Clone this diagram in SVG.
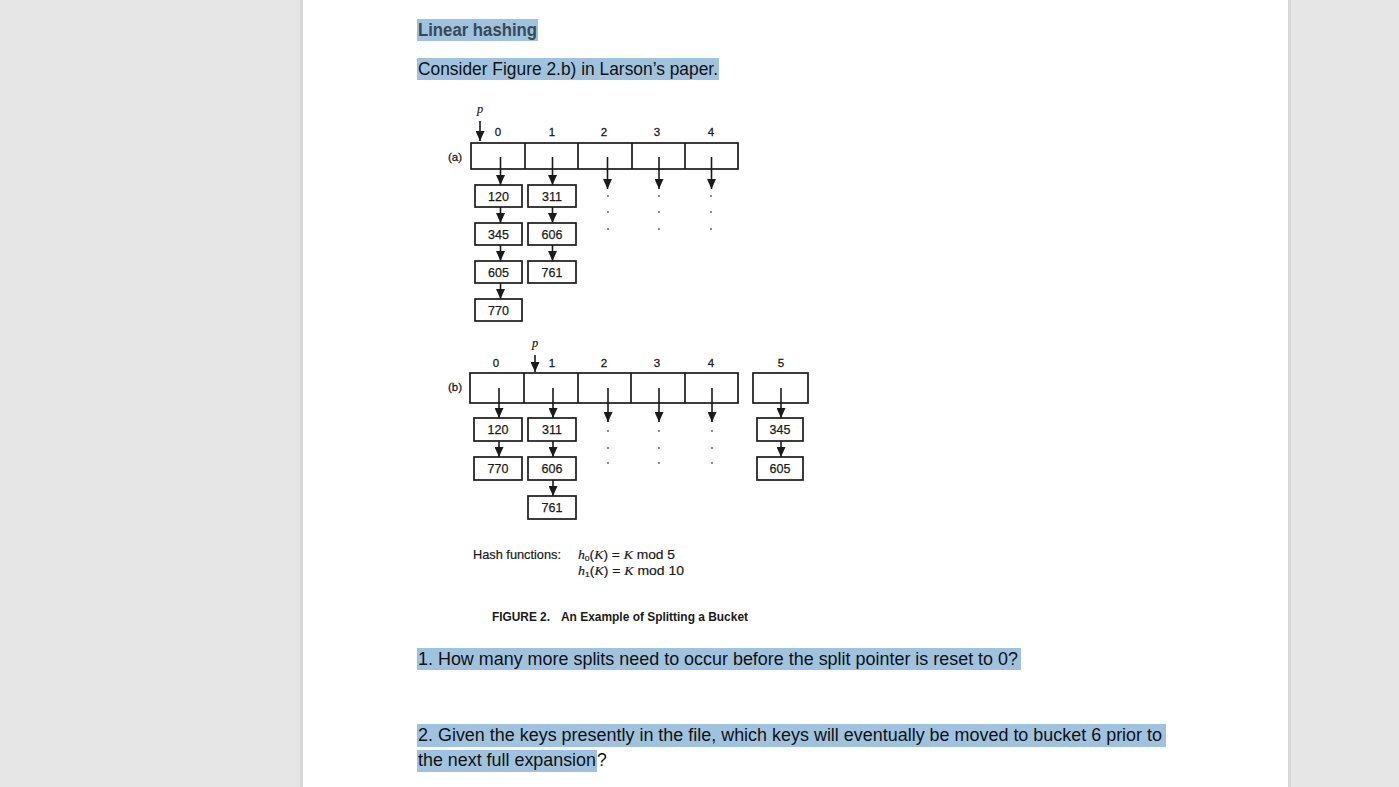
<svg xmlns="http://www.w3.org/2000/svg" width="1399" height="787" viewBox="0 0 1399 787">
<defs>
<marker id="ad" markerUnits="userSpaceOnUse" markerWidth="9" markerHeight="10" refX="4.5" refY="10" orient="0" viewBox="0 0 9 10">
<path d="M0,0 L9,0 L4.5,10 Z" fill="#1a1a1a"/>
</marker>
</defs>
<style>
.hl{fill:#9fc3df}
.body{font-family:"Liberation Sans",Arial,sans-serif;font-size:17.5px;fill:#111}
.title{font-family:"Liberation Sans",Arial,sans-serif;font-size:17.5px;font-weight:bold;fill:#3a4856}
.box{fill:#fff;stroke:#1a1a1a;stroke-width:1.7}
.num{font-family:"Liberation Sans",Arial,sans-serif;font-size:12.5px;fill:#1a1a1a;stroke:#1a1a1a;stroke-width:0.25;text-anchor:middle}
.lbl{font-family:"Liberation Sans",Arial,sans-serif;font-size:11.5px;fill:#1a1a1a;stroke:#1a1a1a;stroke-width:0.3;text-anchor:middle}
.p{font-family:"Liberation Serif","Times New Roman",serif;font-style:italic;font-size:12.5px;fill:#1a1a1a;stroke:#1a1a1a;stroke-width:0.2;text-anchor:middle}
.ln{stroke:#1a1a1a;stroke-width:1.7;fill:none}
.arr{stroke:#1a1a1a;stroke-width:1.6;fill:none;marker-end:url(#ad)}
.dot{fill:#555}
.fig{font-family:"Liberation Sans",Arial,sans-serif;font-size:13px;fill:#1a1a1a;stroke:#1a1a1a;stroke-width:0.2}
.math{font-family:"Liberation Serif","Times New Roman",serif;font-style:italic}
.cap{font-family:"Liberation Sans",Arial,sans-serif;font-size:12.5px;font-weight:bold;fill:#1a1a1a}
</style>
<rect x="0" y="0" width="1399" height="787" fill="#e6e6e6"/>
<rect x="300" y="0" width="991" height="787" fill="#d8d8d8"/>
<rect x="303" y="0" width="985" height="787" fill="#ffffff"/>

<g id="text-top">
<rect class="hl" x="417" y="19" width="121" height="22"/>
<text class="title" x="418" y="36" textLength="119" lengthAdjust="spacingAndGlyphs">Linear hashing</text>
<rect class="hl" x="417" y="58" width="302" height="22"/>
<text class="body" x="418" y="75" textLength="300" lengthAdjust="spacingAndGlyphs">Consider Figure 2.b) in Larson’s paper.</text>
</g>

<g id="fig-a">
<text class="p" x="480" y="113">p</text>
<text class="lbl" x="455" y="161">(a)</text>
<g id="a-buckets">
<rect class="box" x="471" y="143" width="267" height="26"/>
<line class="ln" x1="525" y1="143" x2="525" y2="169"/>
<line class="ln" x1="578" y1="143" x2="578" y2="169"/>
<line class="ln" x1="632" y1="143" x2="632" y2="169"/>
<line class="ln" x1="685" y1="143" x2="685" y2="169"/>
<text class="lbl" x="498" y="136">0</text>
<text class="lbl" x="552" y="136">1</text>
<text class="lbl" x="604" y="136">2</text>
<text class="lbl" x="657" y="136">3</text>
<text class="lbl" x="711" y="136">4</text>
</g>
<g id="a-120"><rect class="box" x="475" y="185" width="47" height="22"/><text class="num" x="498.5" y="200.5">120</text></g>
<g id="a-345"><rect class="box" x="475" y="223" width="47" height="22"/><text class="num" x="498.5" y="238.5">345</text></g>
<g id="a-605"><rect class="box" x="475" y="261" width="47" height="22"/><text class="num" x="498.5" y="276.5">605</text></g>
<g id="a-770"><rect class="box" x="475" y="299" width="47" height="22"/><text class="num" x="498.5" y="314.5">770</text></g>
<g id="a-311"><rect class="box" x="528" y="185" width="48" height="22"/><text class="num" x="552" y="200.5">311</text></g>
<g id="a-606"><rect class="box" x="528" y="223" width="48" height="22"/><text class="num" x="552" y="238.5">606</text></g>
<g id="a-761"><rect class="box" x="528" y="261" width="48" height="22"/><text class="num" x="552" y="276.5">761</text></g>
<g id="a-dots">
<circle class="dot" cx="608" cy="196" r="0.9"/><circle class="dot" cx="608" cy="212" r="0.9"/><circle class="dot" cx="608" cy="229" r="0.9"/>
<circle class="dot" cx="659" cy="196" r="0.9"/><circle class="dot" cx="659" cy="212" r="0.9"/><circle class="dot" cx="659" cy="229" r="0.9"/>
<circle class="dot" cx="711" cy="196" r="0.9"/><circle class="dot" cx="711" cy="212" r="0.9"/><circle class="dot" cx="711" cy="229" r="0.9"/>
</g>
</g>

<g id="fig-b">
<text class="p" x="535" y="347">p</text>
<text class="lbl" x="455" y="391">(b)</text>
<g id="b-buckets">
<rect class="box" x="470" y="373" width="268" height="30"/>
<line class="ln" x1="524" y1="373" x2="524" y2="403"/>
<line class="ln" x1="578" y1="373" x2="578" y2="403"/>
<line class="ln" x1="631" y1="373" x2="631" y2="403"/>
<line class="ln" x1="685" y1="373" x2="685" y2="403"/>
<text class="lbl" x="496" y="367">0</text>
<text class="lbl" x="552" y="367">1</text>
<text class="lbl" x="604" y="367">2</text>
<text class="lbl" x="657" y="367">3</text>
<text class="lbl" x="711" y="367">4</text>
</g>
<g id="b-bucket5">
<rect class="box" x="753" y="373" width="55" height="30"/>
<text class="lbl" x="781" y="367">5</text>
</g>
<g id="b-120"><rect class="box" x="474" y="418" width="48" height="23"/><text class="num" x="498" y="434">120</text></g>
<g id="b-770"><rect class="box" x="474" y="457" width="48" height="23"/><text class="num" x="498" y="473">770</text></g>
<g id="b-311"><rect class="box" x="528" y="418" width="48" height="23"/><text class="num" x="552" y="434">311</text></g>
<g id="b-606"><rect class="box" x="528" y="457" width="48" height="23"/><text class="num" x="552" y="473">606</text></g>
<g id="b-761"><rect class="box" x="528" y="496" width="48" height="23"/><text class="num" x="552" y="512">761</text></g>
<g id="b-345"><rect class="box" x="757" y="418" width="46" height="23"/><text class="num" x="780" y="434">345</text></g>
<g id="b-605"><rect class="box" x="757" y="457" width="46" height="23"/><text class="num" x="780" y="473">605</text></g>
<g id="b-dots">
<circle class="dot" cx="608" cy="431" r="0.9"/><circle class="dot" cx="608" cy="448" r="0.9"/><circle class="dot" cx="608" cy="463" r="0.9"/>
<circle class="dot" cx="659" cy="431" r="0.9"/><circle class="dot" cx="659" cy="448" r="0.9"/><circle class="dot" cx="659" cy="463" r="0.9"/>
<circle class="dot" cx="712" cy="431" r="0.9"/><circle class="dot" cx="712" cy="448" r="0.9"/><circle class="dot" cx="712" cy="463" r="0.9"/>
</g>
</g>

<g id="connectors">
<line class="arr" x1="480" y1="121" x2="480" y2="141"/>
<line class="arr" x1="500.5" y1="157" x2="500.5" y2="185"/>
<line class="arr" x1="552.5" y1="157" x2="552.5" y2="185"/>
<line class="arr" x1="607.5" y1="157" x2="607.5" y2="189"/>
<line class="arr" x1="659" y1="157" x2="659" y2="189"/>
<line class="arr" x1="711.5" y1="157" x2="711.5" y2="189"/>
<line class="arr" x1="500.5" y1="207" x2="500.5" y2="223"/>
<line class="arr" x1="500.5" y1="245" x2="500.5" y2="261"/>
<line class="arr" x1="500.5" y1="283" x2="500.5" y2="299"/>
<line class="arr" x1="552.5" y1="207" x2="552.5" y2="223"/>
<line class="arr" x1="552.5" y1="245" x2="552.5" y2="261"/>

<line class="arr" x1="535" y1="355" x2="535" y2="372"/>
<line class="arr" x1="499" y1="388" x2="499" y2="418"/>
<line class="arr" x1="553" y1="388" x2="553" y2="418"/>
<line class="arr" x1="608" y1="388" x2="608" y2="422"/>
<line class="arr" x1="659" y1="388" x2="659" y2="422"/>
<line class="arr" x1="712" y1="388" x2="712" y2="422"/>
<line class="arr" x1="781" y1="388" x2="781" y2="418"/>
<line class="arr" x1="499" y1="441" x2="499" y2="457"/>
<line class="arr" x1="553" y1="441" x2="553" y2="457"/>
<line class="arr" x1="553" y1="480" x2="553" y2="496"/>
<line class="arr" x1="781" y1="441" x2="781" y2="457"/>
</g>

<g id="hash-functions">
<text class="fig" x="473" y="559" textLength="88" lengthAdjust="spacingAndGlyphs">Hash functions:</text>
<text class="fig" x="578" y="559" textLength="97" lengthAdjust="spacingAndGlyphs"><tspan class="math">h</tspan><tspan font-size="8" dy="2">0</tspan><tspan dy="-2">(</tspan><tspan class="math">K</tspan>) = <tspan class="math">K</tspan> mod 5</text>
<text class="fig" x="578" y="575" textLength="106" lengthAdjust="spacingAndGlyphs"><tspan class="math">h</tspan><tspan font-size="8" dy="2">1</tspan><tspan dy="-2">(</tspan><tspan class="math">K</tspan>) = <tspan class="math">K</tspan> mod 10</text>
</g>

<g id="caption">
<text class="cap" x="492" y="621" textLength="58" lengthAdjust="spacingAndGlyphs">FIGURE 2.</text>
<text class="cap" x="561" y="621" textLength="187" lengthAdjust="spacingAndGlyphs">An Example of Splitting a Bucket</text>
</g>

<g id="questions">
<rect class="hl" x="417" y="648" width="604" height="22"/>
<text class="body" x="418" y="665" textLength="600" lengthAdjust="spacingAndGlyphs">1. How many more splits need to occur before the split pointer is reset to 0?</text>
<rect class="hl" x="417" y="724" width="749" height="23"/>
<text class="body" x="418" y="741" textLength="744" lengthAdjust="spacingAndGlyphs">2. Given the keys presently in the file, which keys will eventually be moved to bucket 6 prior to</text>
<rect class="hl" x="417" y="750" width="180" height="22"/>
<text class="body" x="418" y="766"><tspan textLength="178" lengthAdjust="spacingAndGlyphs">the next full expansion</tspan><tspan x="597">?</tspan></text>
</g>
</svg>
